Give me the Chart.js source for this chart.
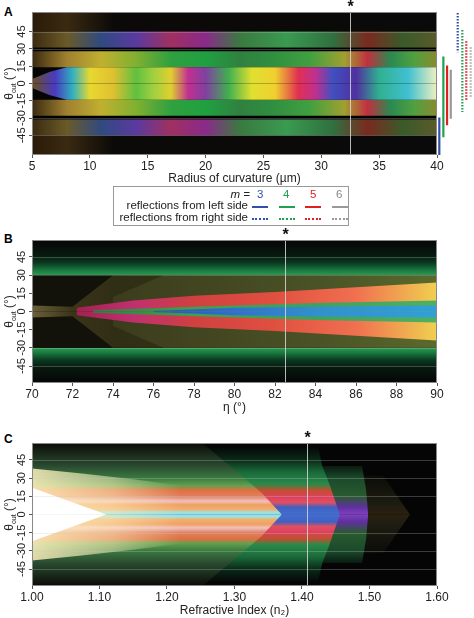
<!DOCTYPE html>
<html><head><meta charset="utf-8">
<script src="https://cdn.jsdelivr.net/npm/chart.js@4"></script>
<style>
html,body{margin:0;padding:0;background:#fff;width:474px;height:618px;overflow:hidden;font-family:"Liberation Sans",Arial,sans-serif;}
.cv{position:absolute;left:0;}
.lab{position:absolute;font-weight:bold;font-size:12px;left:4px;}
#leg{position:absolute;left:113px;top:186px;width:234px;height:38px;border:1px solid #999;font-size:11.5px;color:#222;}
#leg div{position:absolute;white-space:nowrap;}
</style></head><body>
<div class="lab" style="top:5px">A</div>
<div class="lab" style="top:232px">B</div>
<div class="lab" style="top:432px">C</div>
<canvas id="ca" class="cv" style="top:0" width="474" height="186"></canvas>
<canvas id="cb" class="cv" style="top:225px" width="474" height="190"></canvas>
<canvas id="cc" class="cv" style="top:420px" width="474" height="198"></canvas>
<div id="leg">
 <div style="right:98px;top:1px;font-style:italic">m =</div>
 <div style="left:143px;top:1px;color:#3050b0">3</div>
 <div style="left:169px;top:1px;color:#20a050">4</div>
 <div style="left:196px;top:1px;color:#e02020">5</div>
 <div style="left:222px;top:1px;color:#888">6</div>
 <div style="right:100px;top:12px">reflections from left side</div>
 <div style="right:100px;top:24px">reflections from right side</div>
</div>
<script>
// ---------- Panel A data ----------
const yTicks=[-45,-30,-15,0,15,30,45];
const aTicksX=[5,10,15,20,25,30,35,40];
const aStar=32.5;
const aTopX=[5,40], aTopHi=[62,62], aTopLo=45;
const aTopCX=[5,8,12,40], aTopC=['#2a1a08','#3a2a12','#0c0a08','#0a0a0a'];
const aB3X=[5,40], aB3Hi=[45,45], aB3Lo=31;
const aB3CX=[5,8,11,14,17,20,23,27,31,34,37,40];
const aB3C=['#3a2a10','#6a5a28','#304a80','#5a3aa0','#a03060','#8a2a8a','#3a7a40','#3a9a50','#307040','#7a2a20','#3a5a2a','#5a5a2a'];
const aGapX=[5,40], aGapHi=[31,31], aGapLo=28;
const aB2X=[5,40], aB2Hi=[28,28], aB2Lo=14;
const aB2CX=[5,8,11,14,17,20,23,26,29,32,34,36,38,40];
const aB2C=['#3a2a10','#a08030','#c0b030','#80b030','#30a040','#20a040','#308040','#309040','#40a040','#a0a030','#c03040','#2a8a50','#50a040','#8a8a30'];
const aB1X=[5,6.5,8,40], aB1Hi=[4,10,14,14], aB1Lo=0;
const aB1CX=[5,7,8.5,10,12,14,15.5,17,18.5,20,22,24,26,28,29.5,31,33,35,37.5,40];
const aB1C=['#6a5020','#4a3ac0','#30b0c0','#e8d830','#e0c030','#60c040','#a0d040','#e0d030','#c03090','#8040a0','#40b050','#e0e030','#f0d030','#e03050','#c03090','#4050c0','#5030a0','#30b090','#40c0d0','#f0f0c0'];
// side indicators (theta ranges)
const indX=[40.2,40.55,40.87,41.19,41.79,42.19,42.53,42.91];
const indTop=[-29.4,23.4,15.6,11.9,61.2,46.5,36.6,31.4];
const indBot=[-62,-46.7,-36.3,-30.5,27.1,-24.8,-14.7,-11.8];
const indCol=['#3050a0','#20a050','#e02020','#999999','#3050a0','#20a050','#e02020','#aaaaaa'];
const indDot=[false,false,false,false,true,true,true,true];
// ---------- Panel B data ----------
const bTicksX=[70,72,74,76,78,80,82,84,86,88,90];
const bStar=82.5;
const bOutX=[70,90], bOutHi=[59,59], bOutLo=30;
const bOutCY=[30,34,40,46,59], bOutC=['#2a9a50','#1a7a40','#0a3a20','#081a10','#050505'];
const bInX=[70,90], bInHi=[30,30];
const bW1X=[70,72,74,90], bW1Hi=[5,4,30,30], bW1CX=[70,72,74,90], bW1C=['#6a6038','#3a3418','#302e14','#3a4020'];
const bW2X=[74,76.5,90], bW2Hi=[12,30,30], bW2CX=[74,84,90], bW2C=['#3c3c1c','#4a5226','#5a6a2c'];
const bRX=[72.2,75,78,82,86,90], bRHi=[3,9,13,16,20,24], bRCX=[72,75,78,82,86,90], bRC=['#a02050','#c03070','#d04040','#e05040','#f07050','#f0d050'];
const bGX=[73,78,84,90], bGHi=[1,4,7,9], bGCX=[73,78,84,90], bGC=['#308040','#40a050','#40a060','#50b060'];
const bBX=[76,80,84,90], bBHi=[0.5,3,4,5], bBCX=[76,80,84,90], bBC=['#3050b0','#3070d0','#3090d0','#30a0d8'];
// ---------- Panel C data ----------
const cTicksX=[1.0,1.1,1.2,1.3,1.4,1.5,1.6];
const cStar=1.407;
const c4X=[1.0,1.52,1.56], c4Hi=[32,32,0], c4CY=[32,10,0], c4C=['#0c0c08','#1c1c12','#2a2010'];
const c3X=[1.0,1.489,1.495,1.498], c3Hi=[40,40,20,0], c3CY=[40,30,15,6,0], c3C=['#0a1a10','#1a4a2a','#2a5a30','#6030a0','#8040c0'];
const c2X=[1.0,1.424,1.43,1.44,1.456], c2Hi=[55,55,40,26,0];
const c2CY=[55,45,35,25,20,14,10,6,0], c2C=['#050a08','#0a2a18','#1a6a3a','#2a8a4a','#c05030','#e04060','#e05060','#4060c0','#4070d0'];
const c1X=[1.0,1.25,1.30,1.34,1.37], c1Hi=[60,60,37,18,0];
const c1CY=[60,50,40,30,24,20,15,11,8,4,2,0], c1C=['#0a0a08','#1a2a1a','#2a4a30','#3a7a40','#60a050','#e07040','#e08060','#f0c0c0','#f0a060','#f0b070','#a0e0e0','#90e0e0'];
const c0X=[1.0,1.07,1.15,1.22], c0Hi=[38,34,29,24], c0CX=[1.0,1.12,1.22], c0C=['rgba(255,240,190,0.85)','rgba(255,240,190,0.5)','rgba(255,240,190,0)'];
const cwX=[1.0,1.11], cwHi=[22,0];

Chart.defaults.font.family='"Liberation Sans", Arial, sans-serif';
Chart.defaults.font.size=12;
Chart.defaults.color='#222';

function hGrad(xs,cols){return (ctx)=>{const ch=ctx.chart,a=ch.chartArea;if(!a)return cols[0];
  const s=ch.scales.x;const g=ch.ctx.createLinearGradient(a.left,0,a.right,0);
  xs.forEach((x,i)=>{let p=(s.getPixelForValue(x)-a.left)/(a.right-a.left);g.addColorStop(Math.min(1,Math.max(0,p)),cols[i]);});return g;};}
function vGrad(ys,cols,sign){return (ctx)=>{const ch=ctx.chart,a=ch.chartArea;if(!a)return cols[0];
  const s=ch.scales.y;const g=ch.ctx.createLinearGradient(0,a.top,0,a.bottom);
  const items=ys.map((y,i)=>[(s.getPixelForValue(sign*y)-a.top)/(a.bottom-a.top),cols[i]]).sort((p,q)=>p[0]-q[0]);
  items.forEach(([p,c])=>g.addColorStop(Math.min(1,Math.max(0,p)),c));return g;};}
function band(xs,hi,lo,colUp,colDn,order){
  const mk=(sg,col)=>({data:xs.map((x,i)=>({x,y:sg*hi[i]})),fill:{value:sg*lo},backgroundColor:col,borderWidth:0,borderColor:'rgba(0,0,0,0)',pointRadius:0,order,tension:0});
  return [mk(1,colUp),mk(-1,colDn)];
}
function hband(xs,hi,lo,cx,cc,order){const g=hGrad(cx,cc);return band(xs,hi,lo,g,g,order);}
function vband(xs,hi,lo,cy,cc,order){return band(xs,hi,lo,vGrad(cy,cc,1),vGrad(cy,cc,-1),order);}

const panelPlugin={id:'panel',
 beforeDatasetsDraw(ch){const a=ch.chartArea,c=ch.ctx;c.save();c.fillStyle='#050505';c.fillRect(a.left,a.top,a.right-a.left,a.bottom-a.top);c.restore();},
 afterDatasetsDraw(ch,args,o){const a=ch.chartArea,c=ch.ctx,ys=ch.scales.y,xs=ch.scales.x;c.save();
  c.strokeStyle='rgba(200,200,200,0.28)';c.lineWidth=1;
  o.grid.forEach(v=>{const y=Math.round(ys.getPixelForValue(v))+0.5;c.beginPath();c.moveTo(a.left,y);c.lineTo(a.right,y);c.stroke();});
  const sx=Math.round(xs.getPixelForValue(o.star))+0.5;
  c.strokeStyle='rgba(215,215,215,0.85)';c.beginPath();c.moveTo(sx,a.top);c.lineTo(sx,a.bottom);c.stroke();
  c.fillStyle='#111';c.font='bold 16px "Liberation Sans"';c.textAlign='center';c.textBaseline='middle';c.fillText('*',sx,a.top-4);
  c.strokeStyle='#888';c.strokeRect(a.left+0.5,a.top+0.5,a.right-a.left-1,a.bottom-a.top-1);
  c.fillStyle='#222';c.font='11px "Liberation Sans"';c.textAlign='center';c.textBaseline='middle';
  yTicks.forEach(v=>{const y=ys.getPixelForValue(v);c.save();c.translate(a.left-10,y);c.rotate(-Math.PI/2);c.fillText(String(v),0,0);c.restore();});
  const cy=(a.top+a.bottom)/2;c.translate(9,cy);c.rotate(-Math.PI/2);c.textAlign='left';c.textBaseline='alphabetic';
  const t1='θ',t3=' (°)';c.font='12px "Liberation Sans"';
  const w1=c.measureText(t1).width;c.font='7px "Liberation Sans"';const w2=c.measureText('out').width;c.font='12px "Liberation Sans"';const w3=c.measureText(t3).width;
  let x0=-(w1+w2+w3)/2;c.fillText(t1,x0,4);c.font='7px "Liberation Sans"';c.fillText('out',x0+w1,7);c.font='12px "Liberation Sans"';c.fillText(t3,x0+w1+w2,4);
  c.restore();}};

function makeChart(id,datasets,xmin,xmax,xticks,ymax,title,star,grid,pad,xh,dec){
 return new Chart(document.getElementById(id),{type:'line',data:{datasets},
  options:{responsive:false,animation:false,events:[],
   layout:{padding:pad},
   plugins:{legend:{display:false},tooltip:{enabled:false},panel:{star,grid}},
   scales:{
    x:{type:'linear',min:xmin,max:xmax,afterBuildTicks:s=>{s.ticks=xticks.map(v=>({value:v}));},
       afterFit:s=>{s.height=xh;},
       ticks:{color:'#222',maxRotation:0,padding:1,callback:v=>dec?v.toFixed(dec):v},
       grid:{drawOnChartArea:false,drawTicks:true,tickLength:3,color:'#555'},border:{display:false},
       title:{display:true,text:title,color:'#222',padding:{top:0,bottom:0}}},
    y:{type:'linear',min:-ymax,max:ymax,afterBuildTicks:s=>{s.ticks=yTicks.map(v=>({value:v}));},
       afterFit:s=>{s.width=32;},
       ticks:{display:false},
       grid:{drawOnChartArea:false,drawTicks:true,tickLength:3,color:'#555'},border:{display:false}}
   }},plugins:[panelPlugin]});
}

const dsA=[].concat(
 hband(aTopX,aTopHi,aTopLo,aTopCX,aTopC,10),
 hband(aB3X,aB3Hi,aB3Lo,aB3CX,aB3C,9),
 band(aGapX,aGapHi,aGapLo,'#020202','#020202',8),
 hband(aB2X,aB2Hi,aB2Lo,aB2CX,aB2C,7),
 hband(aB1X,aB1Hi,aB1Lo,aB1CX,aB1C,6)
);
indX.forEach((x,i)=>dsA.push({data:[{x,y:indTop[i]},{x,y:indBot[i]}],borderColor:indCol[i],borderWidth:2.2,borderDash:indDot[i]?[1.5,1.5]:[],pointRadius:0,fill:false,clip:false,order:0}));
makeChart('ca',dsA,5,40,aTicksX,62,'Radius of curvature (µm)',aStar,[45,-45,30,-30],{top:12,right:37,left:0,bottom:0},31,0);

const dsB=[].concat(
 vband(bOutX,bOutHi,bOutLo,bOutCY,bOutC,10),
 band(bInX,bInHi,0,'#12120a','#12120a',9),
 hband(bW1X,bW1Hi,0,bW1CX,bW1C,8),
 hband(bW2X,bW2Hi,0,bW2CX,bW2C,7),
 hband(bRX,bRHi,0,bRCX,bRC,6),
 hband(bGX,bGHi,0,bGCX,bGC,5),
 hband(bBX,bBHi,0,bBCX,bBC,4)
);
makeChart('cb',dsB,70,90,bTicksX,59,'η (°)',bStar,[45,30,-30,-45],{top:15,right:37,left:0,bottom:0},32,0);

const dsC=[].concat(
 vband(c4X,c4Hi,0,c4CY,c4C,10),
 vband(c3X,c3Hi,0,c3CY,c3C,9),
 vband(c2X,c2Hi,0,c2CY,c2C,8),
 vband(c1X,c1Hi,0,c1CY,c1C,7),
 hband(c0X,c0Hi,0,c0CX,c0C,6),
 band(cwX,cwHi,0,'#ffffff','#ffffff',5)
);
makeChart('cc',dsC,1.0,1.6,cTicksX,59,'Refractive Index (n₂)',cStar,[45,30,15,-15,-30,-45],{top:23,right:37,left:0,bottom:0},32,2);
</script>
<script>
(function(){const L=document.getElementById('leg');const cols=['#3050b0','#20a050','#e02020','#999'];
cols.forEach((c,i)=>{[0,1].forEach(r=>{const d=document.createElement('div');d.style.left=(138+i*26.5)+'px';d.style.top=(r?31:19)+'px';d.style.width='16px';d.style.height='0';d.style.borderTop=(r?'2px dotted ':'2px solid ')+c;L.appendChild(d);});});})();
</script>
</body></html>
